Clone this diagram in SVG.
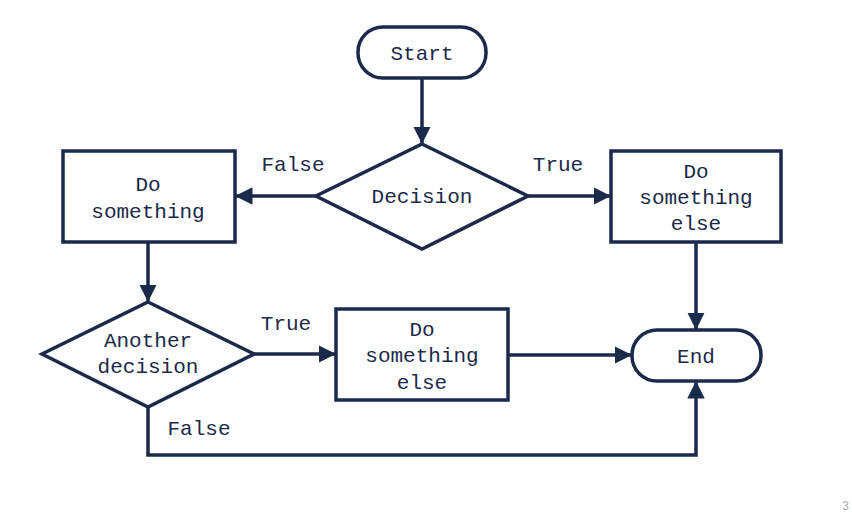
<svg xmlns="http://www.w3.org/2000/svg" width="852" height="512" viewBox="0 0 852 512">
<style>
.s{fill:#fff;stroke:#1b2a4a;stroke-width:3.5}
.c{fill:none;stroke:#1b2a4a;stroke-width:3.5}
text{font-family:"Liberation Mono","DejaVu Sans Mono",monospace;font-size:21px;fill:#1b2a4a;text-anchor:middle}
</style>
<defs><marker id="a" viewBox="0 0 10 10" refX="10" refY="5" markerWidth="5" markerHeight="5" markerUnits="strokeWidth" orient="auto"><path d="M0,0L10,5L0,10z" fill="#1b2a4a"/></marker></defs>
<rect width="852" height="512" fill="#fff"/>
<g id="connectors">
<path class="c" d="M422,78V144" marker-end="url(#a)"/>
<path class="c" d="M316,196H235" marker-end="url(#a)"/>
<path class="c" d="M528,196H611" marker-end="url(#a)"/>
<path class="c" d="M148,242V302" marker-end="url(#a)"/>
<path class="c" d="M254,354H336" marker-end="url(#a)"/>
<path class="c" d="M508,355H632" marker-end="url(#a)"/>
<path class="c" d="M696,242V330" marker-end="url(#a)"/>
<path class="c" d="M148,407V455H696V381" marker-end="url(#a)"/>
<text x="293" y="171">False</text>
<text x="558" y="171">True</text>
<text x="286" y="330">True</text>
<text x="199" y="435">False</text>
</g>
<g id="start"><rect class="s" x="358" y="27" width="128" height="51" rx="25"/><text x="422" y="60">Start</text></g>
<g id="decision"><path class="s" d="M422,144L528,196L422,249L316,196Z"/><text x="422" y="203">Decision</text></g>
<g id="left"><rect class="s" x="63" y="151" width="172" height="91"/><text x="148" y="191">Do</text><text x="148" y="218">something</text></g>
<g id="right"><rect class="s" x="611" y="151" width="170" height="91"/><text x="696" y="178">Do</text><text x="696" y="204">something</text><text x="696" y="230">else</text></g>
<g id="another"><path class="s" d="M148,302L254,354L148,407L42,354Z"/><text x="148" y="347">Another</text><text x="148" y="373">decision</text></g>
<g id="middle"><rect class="s" x="336" y="309" width="172" height="91"/><text x="422" y="336">Do</text><text x="422" y="362">something</text><text x="422" y="389">else</text></g>
<g id="end"><rect class="s" x="632" y="330" width="129" height="51" rx="25"/><text x="696" y="363">End</text></g>
<text x="849" y="510" style="font-family:'Liberation Sans',sans-serif;font-size:12px;fill:#aaa;text-anchor:end">3</text>
</svg>
